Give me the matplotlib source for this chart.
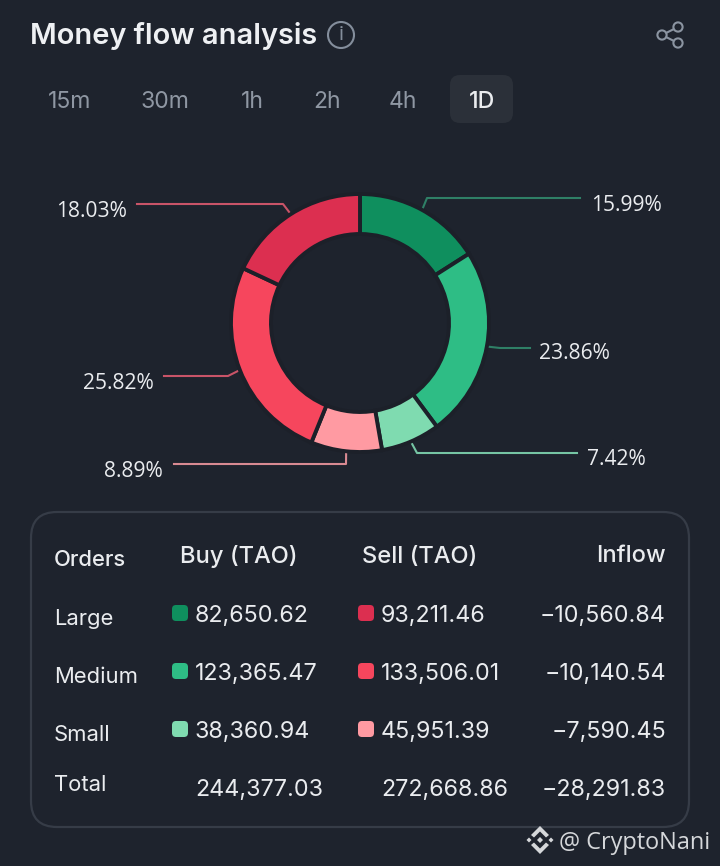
import math
import matplotlib
matplotlib.use("Agg")
import matplotlib.pyplot as plt
from matplotlib.patches import Circle, FancyBboxPatch, Polygon

# donut, clockwise from the top
shares = [15.99, 23.86, 7.42, 8.89, 25.82, 18.03]
share_colors = ["#0f8f5e", "#2ebd85", "#7fdbb0", "#ff9aa2", "#f6465d", "#dc2f50"]
line_colors = ["#2f7f66", "#2f7f66", "#76c5a4", "#d98a92", "#c95468", "#c95468"]

intervals = ["15m", "30m", "1h", "2h", "4h", "1D"]
orders = ["Large", "Medium", "Small", "Total"]
buy = [82650.62, 123365.47, 38360.94, 244377.03]
sell = [93211.46, 133506.01, 45951.39, 272668.86]
inflow = [-10560.84, -10140.54, -7590.45, -28291.83]

BG = "#1e232d"
W, H = 720, 866
FONT = "Inter"
PCT_FONT = "Open Sans"

fig = plt.figure(figsize=(W / 100, H / 100), dpi=100, facecolor=BG)
ax = fig.add_axes([0, 0, 1, 1])
ax.set_xlim(0, W)
ax.set_ylim(H, 0)
ax.axis("off")


def px(size):
    return size * 0.72


def txt(x, y, s, size, color="#eaecef", ha="left", weight="normal", family=FONT):
    ax.text(x, y, s, fontsize=px(size), color=color, ha=ha, va="center_baseline",
            fontweight=weight, family=family)


# header
txt(30, 33, "Money flow analysis", 29, "#eef0f3", weight="semibold")
ax.add_patch(Circle((341, 35), 13, fill=False, ec="#848e9c", lw=1.5))
ax.text(341, 35.5, "i", fontsize=px(20), color="#848e9c", ha="center", va="center", family=FONT)

# share icon
nodes = [(678, 27), (662, 35), (678, 43)]
ax.plot([nodes[0][0], nodes[1][0], nodes[2][0]], [nodes[0][1], nodes[1][1], nodes[2][1]],
        color="#8b94a1", lw=1.5, zorder=2)
for n in nodes:
    ax.add_patch(Circle(n, 4.6, fc=BG, ec="#8b94a1", lw=1.5, zorder=3))

# interval tabs
ax.add_patch(FancyBboxPatch((450, 75), 63, 48, boxstyle="round,pad=0,rounding_size=10",
                            fc="#2b3039", ec="none"))
tab_x = [70, 165, 252, 327, 403, 482]
for x, s in zip(tab_x, intervals):
    active = s == "1D"
    txt(x, 99, s, 23, "#eaecef" if active else "#8f97a3", ha="center",
        weight="medium" if active else "normal")

# donut
cx, cy, r = 360, 323, 129
pie_ax = fig.add_axes([(cx - 135) / W, 1 - (cy + 135) / H, 270 / W, 270 / H])
pie_ax.pie(shares, colors=share_colors, startangle=90, counterclock=False, radius=1,
           wedgeprops=dict(width=40 / 129, edgecolor="#1c2029", linewidth=2.8))
pie_ax.set_xlim(-135 / 129, 135 / 129)
pie_ax.set_ylim(-135 / 129, 135 / 129)
pie_ax.set_facecolor("none")

# leader lines, anchored at the middle of each slice
elbow_x = [427, 500, 417, 346, 228, 283]
elbow_y = [198, 348, 453, 464, 376, 204]
end_x = [580, 530, 577, 174, 164, 137]
label_x = [591, 539, 587, 163, 154, 127]
label_y = [203, 351, 457, 469, 381, 209]
label_ha = ["left", "left", "left", "right", "right", "right"]

total = sum(shares)
run = 0
for i, v in enumerate(shares):
    mid = (run + v / 2) / total * 2 * math.pi
    run += v
    x0 = cx + r * math.sin(mid)
    y0 = cy - r * math.cos(mid)
    ax.plot([x0, elbow_x[i], end_x[i]], [y0, elbow_y[i], elbow_y[i]],
            color=line_colors[i], lw=1.5, solid_joinstyle="round")
    txt(label_x[i], label_y[i], f"{v:.2f}%", 21, "#eaecef", ha=label_ha[i], family=PCT_FONT)

# table
ax.add_patch(FancyBboxPatch((31, 512), 658, 315, boxstyle="round,pad=0,rounding_size=26",
                            fc="none", ec="#363c47", lw=1.6))

txt(54, 558, "Orders", 22, weight="medium")
txt(180, 554, "Buy (TAO)", 23.7, weight="medium")
txt(362, 554, "Sell (TAO)", 23.7, weight="medium")
txt(666, 554, "Inflow", 23.7, ha="right", weight="medium")

order_y = [617, 675, 733, 783]
value_y = [614, 672, 730, 788]
for i, name in enumerate(orders):
    txt(54, order_y[i], name, 22)
    txt(195, value_y[i], f"{buy[i]:,.2f}", 23.3)
    txt(381, value_y[i], f"{sell[i]:,.2f}", 23.3)
    txt(666, value_y[i], f"{inflow[i]:,.2f}".replace("-", "\u2212"), 23.3, ha="right")
    if i < 3:
        # legend chips use the donut colours of that row
        for x, col in [(172, share_colors[i]), (358, share_colors[5 - i])]:
            ax.add_patch(FancyBboxPatch((x + 3, value_y[i] - 6), 10, 10,
                                        boxstyle="round,pad=3,rounding_size=4",
                                        fc=col, ec="none"))

# watermark logo
lx, ly = 540, 840
LOGO = "#d5d7da"
for sign in (-1, 1):
    ax.add_patch(Polygon([(lx - 9, ly + sign * 5), (lx, ly + sign * 14), (lx + 9, ly + sign * 5),
                          (lx + 6, ly + sign * 2.5), (lx, ly + sign * 8.5), (lx - 6, ly + sign * 2.5)],
                         fc=LOGO, ec="none"))
for dx, s in [(-11, 2.5), (11, 2.5), (0, 3)]:
    ax.add_patch(Polygon([(lx + dx, ly - s), (lx + dx + s, ly), (lx + dx, ly + s), (lx + dx - s, ly)],
                         fc=LOGO, ec="none"))
txt(559, 840, "@ CryptoNani", 23.5, "#d5d7da", family=PCT_FONT)

fig.savefig("out.png", dpi=100, facecolor=BG)
